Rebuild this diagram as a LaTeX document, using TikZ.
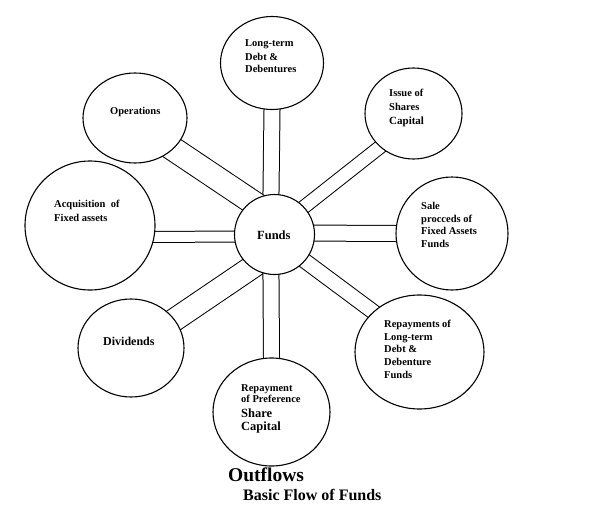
\documentclass[tikz,border=0pt]{standalone}
\usepackage{fontspec}
\setmainfont{Liberation Serif}
\usetikzlibrary{shapes.geometric,backgrounds}
\tikzset{
  bubble/.style={ellipse,draw,line width=1.1pt,fill=white,inner sep=0pt},
  link/.style={double,line width=1pt,shorten <=-8pt,shorten >=-8pt},
  lbl/.style={font=\fontsize{10.5}{13}\selectfont\bfseries,align=left,inner sep=0pt,anchor=base west},
}
\begin{document}
\begin{tikzpicture}[x=1pt,y=-1pt]
\useasboundingbox (0,0) rectangle (597,519);
\node[bubble,minimum width=80pt,minimum height=80pt](f)at(274.5,234.5){};
\node[bubble,minimum width=103pt,minimum height=93pt](ltd)at(272,63){};
\node[bubble,minimum width=104pt,minimum height=90pt](op)at(135,118){};
\node[bubble,minimum width=130pt,minimum height=129pt](acq)at(90,225.5){};
\node[bubble,minimum width=97pt,minimum height=91pt](iss)at(413.5,113.5){};
\node[bubble,minimum width=112pt,minimum height=113pt](sale)at(452,233.5){};
\node[bubble,minimum width=129pt,minimum height=114pt](rep)at(419.5,352){};
\node[bubble,minimum width=106pt,minimum height=98pt](div)at(131,348){};
\node[bubble,minimum width=117pt,minimum height=108pt](pref)at(271.5,412){};
\begin{pgfonlayer}{background}
\draw[link,double distance=15pt](ltd.south)--(f.95);
\draw[link,double distance=23pt](op.-39)--(f.125);
\draw[link,double distance=12.5pt](iss.225)--(f.43.5);
\draw[link,double distance=10pt](acq.-10)--(f.183);
\draw[link,double distance=15pt](f.2)--(sale.west);
\draw[link,double distance=14pt](f.-41.4)--(rep.139.3);
\draw[link,double distance=22pt](div.33.5)--(f.235);
\draw[link,double distance=15pt](f.-95)--(pref.north);
\end{pgfonlayer}
\node[lbl,font=\fontsize{12.5}{14}\selectfont\bfseries](f-t)at(257,239.5){Funds};
\node[lbl](ltd-t)at(245,73){Long-term\\Debt \&\\Debentures};
\node[lbl](op-t)at(110,114.5){Operations};
\node[lbl,font=\fontsize{10.5}{14}\selectfont\bfseries](acq-t)at(54,221.5){Acquisition~ of\\Fixed assets};
\node[lbl,font=\fontsize{10.5}{14}\selectfont\bfseries](iss-t)at(389,124.5){Issue of\\Shares\\{\fontsize{11}{14}\selectfont Capital}};
\node[lbl,font=\fontsize{10.5}{12.5}\selectfont\bfseries](sale-t)at(421,247){Sale\\procceds of\\Fixed Assets\\Funds};
\node[lbl,font=\fontsize{10.5}{12.7}\selectfont\bfseries](rep-t)at(384,378.3){Repayments of\\Long-term\\Debt \&\\Debenture\\Funds};
\node[lbl,font=\fontsize{12}{14}\selectfont\bfseries](div-t)at(103,345){Dividends};
\node[lbl](pref-t)at(241,430.5){Repayment\\[-2pt]of Preference\\[2pt]{\fontsize{12.5}{14}\selectfont Share}\\{\fontsize{12.5}{14}\selectfont Capital}};
\node[lbl,font=\fontsize{19.5}{22}\selectfont\bfseries](out)at(228,481){Outflows};
\node[lbl,font=\fontsize{16}{18}\selectfont\bfseries](cap)at(243,500){Basic Flow of Funds};
\end{tikzpicture}
\end{document}
